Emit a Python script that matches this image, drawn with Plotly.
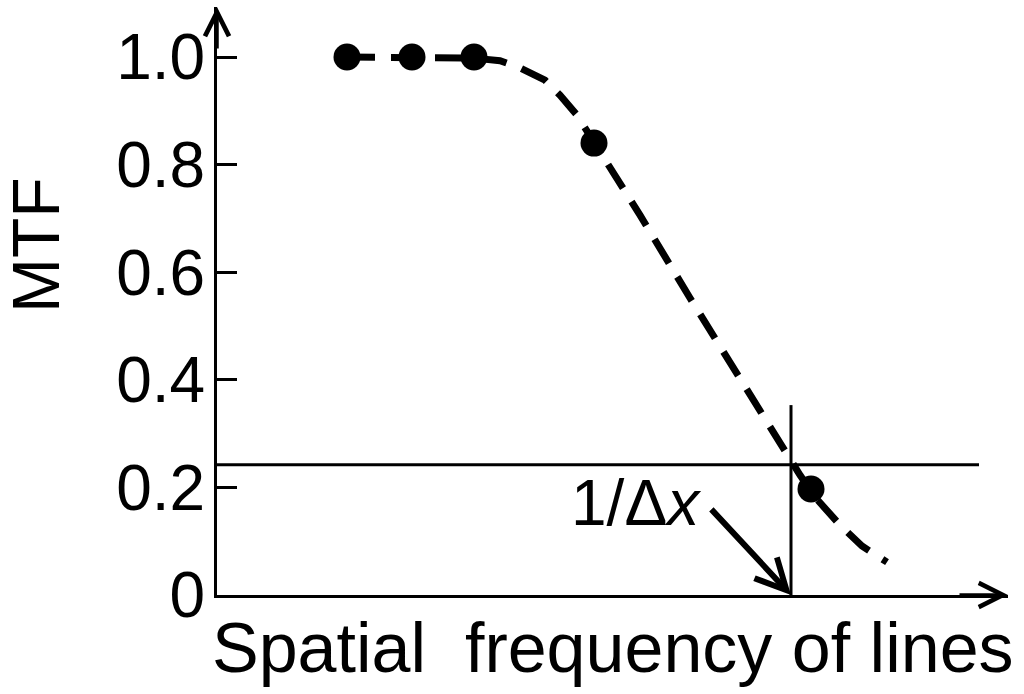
import plotly.graph_objects as go

# measured points (circles)
pts_x = [1.30, 1.95, 2.57, 3.77, 5.94]
pts_y = [1.00, 1.00, 1.00, 0.84, 0.197]

# dashed MTF curve
curve_x = [1.30, 1.95, 2.57, 2.83, 3.03, 3.28, 3.43, 3.60, 3.77, 4.23, 4.73, 5.23, 5.63, 5.83, 5.98, 6.23, 6.45, 6.70]
curve_y = [1.000, 1.000, 0.998, 0.993, 0.980, 0.957, 0.929, 0.892, 0.842, 0.706, 0.552, 0.400, 0.279, 0.223, 0.182, 0.130, 0.091, 0.061]

# threshold line and cutoff frequency
mtf_level = 0.242
cutoff_x = 5.74
cutoff_top = 0.353
hline_end = 7.62

y_ticks = [0, 0.2, 0.4, 0.6, 0.8, 1.0]
y_labels = ["0", "0.2", "0.4", "0.6", "0.8", "1.0"]

x_max = 7.91
y_max = 1.093

font = "Liberation Sans, Arial, sans-serif"

fig = go.Figure()

fig.add_trace(go.Scatter(x=curve_x, y=curve_y, mode="lines",
                         line=dict(color="black", width=7, dash="28px,16px"),
                         showlegend=False))
fig.add_trace(go.Scatter(x=[0, hline_end], y=[mtf_level, mtf_level], mode="lines",
                         line=dict(color="black", width=3), showlegend=False))
fig.add_trace(go.Scatter(x=[cutoff_x, cutoff_x], y=[0, cutoff_top], mode="lines",
                         line=dict(color="black", width=3), showlegend=False))
fig.add_trace(go.Scatter(x=pts_x, y=pts_y, mode="markers",
                         marker=dict(color="black", size=27), showlegend=False))

annotations = [
    # axis arrow heads
    dict(x=0, y=y_max, ax=0, ay=y_max - 0.08, xref="x", yref="y", axref="x", ayref="y",
         showarrow=True, arrowhead=5, arrowsize=1.35, arrowwidth=3.5, arrowcolor="black", text=""),
    dict(x=x_max, y=0, ax=x_max - 0.5, ay=0, xref="x", yref="y", axref="x", ayref="y",
         showarrow=True, arrowhead=5, arrowsize=1.35, arrowwidth=3.5, arrowcolor="black", text=""),
    # 1/Δx pointer
    dict(x=cutoff_x, y=0, ax=4.93, ay=0.162, xref="x", yref="y", axref="x", ayref="y",
         showarrow=True, arrowhead=5, arrowsize=1.0, arrowwidth=6, arrowcolor="black", text=""),
    dict(x=4.19, y=0.171, xref="x", yref="y", showarrow=False, xanchor="center", yanchor="middle",
         text="1/\u0394<i>x</i>", font=dict(family=font, size=64, color="black")),
    # axis titles
    dict(x=-0.229, y=0.595, xref="paper", yref="paper", showarrow=False, textangle=-90,
         xanchor="center", yanchor="middle",
         text="MTF", font=dict(family=font, size=66, color="black")),
    dict(x=0.5, y=-0.09, xref="paper", yref="paper", showarrow=False,
         xanchor="center", yanchor="middle",
         text="Spatial\u00a0\u00a0frequency of lines", font=dict(family=font, size=70, color="black")),
]

fig.update_layout(
    width=1024, height=694,
    margin=dict(l=217, r=16, t=7, b=99),
    paper_bgcolor="white", plot_bgcolor="white",
    annotations=annotations,
    xaxis=dict(range=[0, x_max], showgrid=False, zeroline=False, showticklabels=False,
               ticks="", showline=True, linewidth=3, linecolor="black"),
    yaxis=dict(range=[0, y_max], showgrid=False, zeroline=False,
               tickvals=y_ticks, ticktext=y_labels,
               ticks="inside", ticklen=20, tickwidth=3, tickcolor="black",
               tickfont=dict(family=font, size=64, color="black"),
               ticklabelstandoff=-4,
               showline=True, linewidth=3, linecolor="black"),
)

# page body margin would shift the figure by 8px
fig.write_html("out.html", config={"displayModeBar": False},
               post_script="document.body.style.margin='0';")
